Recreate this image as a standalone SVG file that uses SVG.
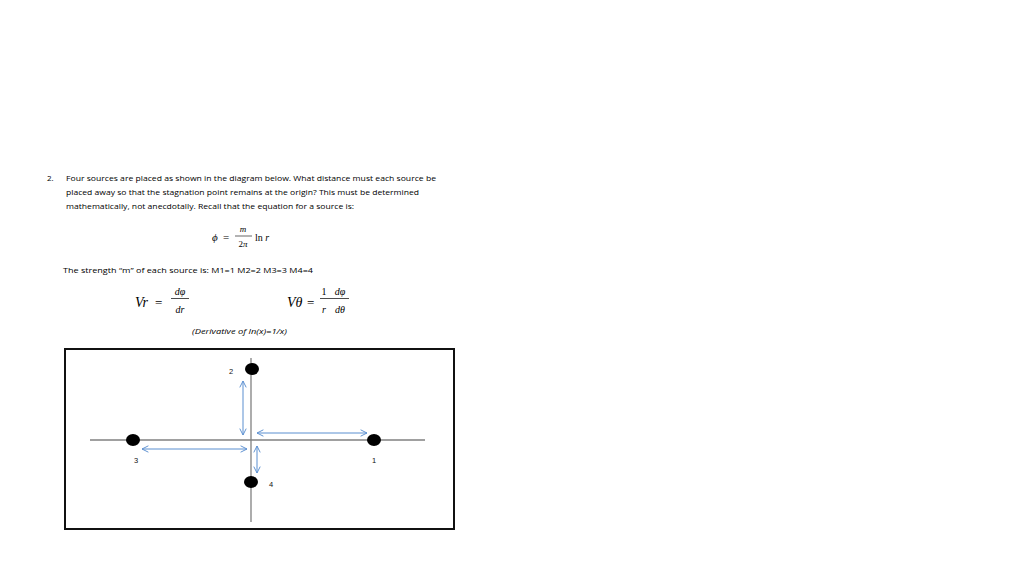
<svg xmlns="http://www.w3.org/2000/svg" width="1024" height="576" viewBox="0 0 1024 576">
<defs>
<style>
.t{font-family:"Open Sans","Liberation Sans",sans-serif;font-size:8px;fill:#000}
.m{font-family:"Liberation Serif",serif;font-style:italic;fill:#000}
.r{font-family:"Liberation Serif",serif;fill:#000}
.lbl{font-family:"Liberation Sans",sans-serif;font-size:7.5px;fill:#111;text-anchor:middle}
.axis{stroke:#808080;stroke-width:1.3;fill:none}
.arr{stroke:#5b8fd0;stroke-width:1;fill:none;marker-start:url(#ah);marker-end:url(#ah)}
</style>
<marker id="ah" viewBox="0 0 10 10" refX="9" refY="5" markerWidth="8" markerHeight="8" markerUnits="userSpaceOnUse" orient="auto-start-reverse">
<path d="M1,1 L9,5 L1,9" fill="none" stroke="#5b8fd0" stroke-width="1.2"/>
</marker>
</defs>
<rect width="1024" height="576" fill="#fff"/>
<g id="question">
<text class="t" x="47" y="181">2.</text>
<text class="t" x="66" y="181" textLength="370" lengthAdjust="spacingAndGlyphs">Four sources are placed as shown in the diagram below.  What distance must each source be</text>
<text class="t" x="66" y="195" textLength="353" lengthAdjust="spacingAndGlyphs">placed away so that the stagnation point remains at the origin?  This must be determined</text>
<text class="t" x="66" y="209" textLength="288" lengthAdjust="spacingAndGlyphs">mathematically, not anecdotally.  Recall that the equation for a source is:</text>
</g>
<g id="eq-source">
<text class="m" x="212" y="241" font-size="11">ϕ</text>
<text class="r" x="223" y="241" font-size="11">=</text>
<text class="m" x="243" y="232" font-size="9" text-anchor="middle">m</text>
<line x1="235" y1="236" x2="252" y2="236" stroke="#000" stroke-width="0.6"/>
<text class="r" x="243" y="246.5" font-size="9" text-anchor="middle">2<tspan font-style="italic">π</tspan></text>
<text class="r" x="255" y="241" font-size="10">ln <tspan font-style="italic">r</tspan></text>
</g>
<g id="strength">
<text class="t" x="63" y="273" textLength="250" lengthAdjust="spacingAndGlyphs">The strength “m” of each source is:  M1=1  M2=2 M3=3  M4=4</text>
</g>
<g id="eq-vr">
<text class="m" x="135" y="307" font-size="14">Vr</text>
<text class="r" x="155" y="307" font-size="13">=</text>
<text class="m" x="180" y="295" font-size="10" text-anchor="middle">dφ</text>
<line x1="171" y1="298.5" x2="189" y2="298.5" stroke="#000" stroke-width="0.7"/>
<text class="m" x="180" y="313" font-size="10" text-anchor="middle">dr</text>
</g>
<g id="eq-vtheta">
<text class="m" x="287" y="307" font-size="14">Vθ</text>
<text class="r" x="307" y="307" font-size="13">=</text>
<text class="r" x="324" y="295" font-size="10" text-anchor="middle">1</text>
<text class="m" x="340" y="295" font-size="10" text-anchor="middle">dφ</text>
<line x1="320" y1="298.5" x2="349" y2="298.5" stroke="#000" stroke-width="0.7"/>
<text class="m" x="324" y="313" font-size="10" text-anchor="middle">r</text>
<text class="m" x="340" y="313" font-size="10" text-anchor="middle">dθ</text>
</g>
<g id="note">
<text class="t" x="192" y="334" font-style="italic" textLength="95" lengthAdjust="spacingAndGlyphs">(Derivative of ln(x)=1/x)</text>
</g>
<g id="frame">
<rect x="65" y="349" width="389" height="180" fill="none" stroke="#111" stroke-width="2"/>
</g>
<g id="axes">
<line class="axis" x1="90" y1="440" x2="425" y2="440"/>
<line class="axis" x1="251" y1="358" x2="251" y2="522"/>
</g>
<g id="connectors">
<line class="arr" x1="243" y1="381" x2="243" y2="435"/>
<line class="arr" x1="257" y1="433" x2="367" y2="433"/>
<line class="arr" x1="142" y1="449" x2="247" y2="449"/>
<line class="arr" x1="257" y1="446" x2="257" y2="473"/>
</g>
<g id="source-1">
<ellipse cx="374" cy="440" rx="7" ry="6" fill="#000"/>
<text class="lbl" x="374" y="463">1</text>
</g>
<g id="source-2">
<ellipse cx="252" cy="369" rx="7" ry="6" fill="#000"/>
<text class="lbl" x="231" y="374">2</text>
</g>
<g id="source-3">
<ellipse cx="133" cy="440" rx="7" ry="6" fill="#000"/>
<text class="lbl" x="136" y="463">3</text>
</g>
<g id="source-4">
<ellipse cx="251" cy="482" rx="7" ry="6" fill="#000"/>
<text class="lbl" x="271" y="487">4</text>
</g>
</svg>
